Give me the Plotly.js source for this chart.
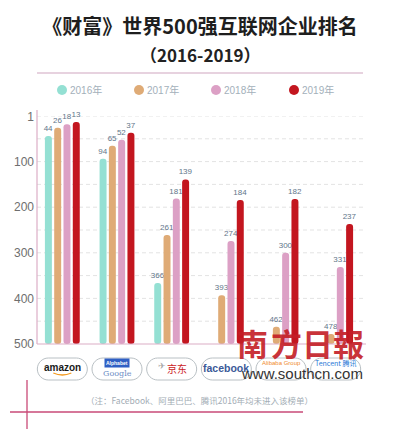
<!DOCTYPE html>
<html><head><meta charset="utf-8">
<script src="https://cdn.plot.ly/plotly-3.0.1.min.js"></script>
<style>html,body{margin:0;padding:0;background:#fff}</style>
</head><body><div id="chart" style="width:400px;height:432px"></div>
<script>
// ---- data ----
const companies = ['Amazon', 'Alphabet', '京东', 'Facebook', '阿里巴巴', '腾讯'];
const years = ['2016年', '2017年', '2018年', '2019年'];
const rank2016 = [44, 94, 366, null, null, null];
const rank2017 = [26, 65, 261, 393, 462, 478];
const rank2018 = [18, 52, 181, 274, 300, 331];
const rank2019 = [13, 37, 139, 184, 182, 237];
const yTickVals = [1, 100, 200, 300, 400, 500];
const yTickText = ['1', '100', '200', '300', '400', '500'];
const titleText = '《财富》世界500强互联网企业排名';
const subtitleText = '（2016-2019）';
const noteText = '（注：Facebook、阿里巴巴、腾讯2016年均未进入该榜单）';
const watermarkChars = '南方日報';
const watermarkUrl = 'www.southcn.com';

// ---- style ----
const colors = ['#94e0d3', '#dfab76', '#dca0c5', '#c3161f'];
const CJK = '"Noto Sans CJK SC", "Noto Sans", sans-serif';
const LAT = 'Arial, "Liberation Sans", "Noto Sans CJK SC", sans-serif';
const BASE = 500;
const GRID_STEP = 50;
// pixel helpers for layout (plot area: x 35..363, y 116..344)
const L = 35, R = 363, T = 116, B = 344;
const px = x => (x - L) / (R - L);
const py = y => (B - y) / (B - T);

const series = [rank2016, rank2017, rank2018, rank2019];
const traces = series.map((s, i) => ({
  type: 'bar',
  name: years[i],
  x: companies,
  base: BASE,
  y: s.map(v => v == null ? null : v - BASE),
  text: s.map(v => v == null ? '' : String(v)),
  textposition: 'outside',
  constraintext: 'none',
  cliponaxis: false,
  textfont: {family: LAT, size: 8, color: '#62768a'},
  marker: {color: colors[i], cornerradius: '50%'},
  hoverinfo: 'skip',
  showlegend: false
}));

const shapes = [];
const annotations = [];
const ann = o => annotations.push(Object.assign({xref: 'paper', yref: 'paper', showarrow: false,
  xanchor: 'center', yanchor: 'middle'}, o));

// dashed horizontal gridlines (behind bars)
for (let v = 0; v < BASE; v += GRID_STEP) {
  shapes.push({type: 'line', layer: 'below', xref: 'paper', yref: 'y', x0: px(37), x1: 1, y0: v, y1: v,
    line: {color: '#e3e3e3', width: 1, dash: '4px,3px'}});
}
// title underline
shapes.push({type: 'line', xref: 'paper', yref: 'paper', x0: px(37), x1: px(363), y0: py(73), y1: py(73),
  line: {color: '#cfa5bf', width: 1.2}});
// axes lines
shapes.push({type: 'line', xref: 'paper', yref: 'paper', x0: px(37), x1: px(37), y0: 0, y1: py(110),
  line: {color: '#dcaec6', width: 1.2}});
shapes.push({type: 'line', xref: 'paper', yref: 'paper', x0: px(37), x1: px(366), y0: 0, y1: 0,
  line: {color: '#dcaec6', width: 1.2}});
// decorative bottom-left lines
shapes.push({type: 'line', xref: 'paper', yref: 'paper', x0: px(10), x1: px(303), y0: py(412), y1: py(412),
  line: {color: '#c94a77', width: 1.3}});
shapes.push({type: 'line', xref: 'paper', yref: 'paper', x0: px(27), x1: px(27), y0: py(380), y1: py(429),
  line: {color: '#c94a77', width: 1.3}});

// legend (manual, circles + text)
const legendX = [62, 139, 216, 294];
years.forEach((yr, i) => {
  shapes.push({type: 'circle', xref: 'paper', yref: 'paper',
    xsizemode: 'pixel', ysizemode: 'pixel', xanchor: px(legendX[i]), yanchor: py(90),
    x0: -5, x1: 5, y0: -5, y1: 5, fillcolor: colors[i], line: {width: 0}});
  ann({x: px(legendX[i] + 6), y: py(90.5), xanchor: 'left', text: yr,
    font: {family: LAT, size: 10, color: '#a3b0ba'}});
});

// logo pills under each category
const pill = 'M-14,-11 L14,-11 C20.08,-11 25,-6.08 25,0 C25,6.08 20.08,11 14,11 L-14,11 C-20.08,11 -25,6.08 -25,0 C-25,-6.08 -20.08,-11 -14,-11 Z';
companies.forEach(c => {
  shapes.push({type: 'path', xref: 'x', yref: 'paper', xsizemode: 'pixel', ysizemode: 'pixel',
    xanchor: c, yanchor: py(369), path: pill, fillcolor: '#ffffff',
    line: {color: '#b9c0c4', width: 1}});
});
// logo contents
ann({xref: 'x', x: companies[0], y: py(367), text: '<b>amazon</b>',
  font: {family: LAT, size: 10, color: '#1a1a1a'}});
shapes.push({type: 'path', xref: 'x', yref: 'paper', xsizemode: 'pixel', ysizemode: 'pixel',
  xanchor: companies[0], yanchor: py(374), path: 'M-9,1 Q0,-3 9,1', line: {color: '#f39a1e', width: 1.3}});
ann({xref: 'x', x: companies[1], y: py(363), text: '<b>Alphabet</b>', bgcolor: '#2f5fc4', borderpad: 1,
  font: {family: LAT, size: 5, color: '#ffffff'}});
ann({xref: 'x', x: companies[1], y: py(373), text: 'Google',
  font: {family: '"DejaVu Serif", serif', size: 8, color: '#6a8cc4'}});
ann({xref: 'x', x: companies[2], y: py(368), xshift: 5, text: '京东',
  font: {family: CJK, size: 10, color: '#cc1b24'}});
ann({xref: 'x', x: companies[2], y: py(366), xshift: -10, text: '✈',
  font: {family: 'DejaVu Sans', size: 9, color: '#a9a9a9'}});
ann({xref: 'x', x: companies[3], y: py(368), text: '<b>facebook</b>',
  font: {family: LAT, size: 10.5, color: '#3b5998'}});
ann({xref: 'x', x: companies[4], y: py(363), text: 'Alibaba Group',
  font: {family: LAT, size: 6, color: '#f08a2c'}});
ann({xref: 'x', x: companies[5], y: py(363), text: 'Tencent 腾讯',
  font: {family: CJK, size: 7, color: '#2a78d6'}});

// footnote
ann({x: px(199), y: py(400), text: noteText, font: {family: CJK, size: 8.5, color: '#a3adb5'}});

// subtitle
ann({x: px(200), y: py(55), text: '<b>' + subtitleText + '</b>',
  font: {family: CJK, size: 17, color: '#222222'}});

// watermark
const wmX = [252, 286, 317, 348];
watermarkChars.split('').forEach((ch, i) => {
  ann({x: px(wmX[i]), y: py(342), text: '<b>' + ch + '</b>',
    font: {family: CJK, size: 31, color: 'rgba(196,30,38,0.92)'}});
});
ann({x: px(302), y: py(373), text: watermarkUrl, font: {family: LAT, size: 15, color: '#333333'}});

const layout = {
  width: 400, height: 432,
  margin: {l: L, r: 400 - R, t: T, b: 432 - B, pad: 0},
  paper_bgcolor: '#ffffff', plot_bgcolor: '#ffffff',
  title: {text: '<b>' + titleText + '</b>', x: 0.5, xref: 'container', y: 1 - 27 / 432, yanchor: 'middle',
    font: {family: CJK, size: 20, color: '#1e1e1e'}},
  barmode: 'group', bargap: 0.32, bargroupgap: 0.25,
  showlegend: false,
  xaxis: {type: 'category', showticklabels: false, showgrid: false, zeroline: false, showline: false, ticks: ''},
  yaxis: {range: [BASE, 0], tickmode: 'array', tickvals: yTickVals, ticktext: yTickText,
    showgrid: false, zeroline: false, showline: false, ticks: '',
    tickfont: {family: LAT, size: 12, color: '#6e6e6e'}},
  shapes: shapes,
  annotations: annotations
};

Plotly.newPlot('chart', traces, layout, {displayModeBar: false, staticPlot: true});
</script>
</body></html>
